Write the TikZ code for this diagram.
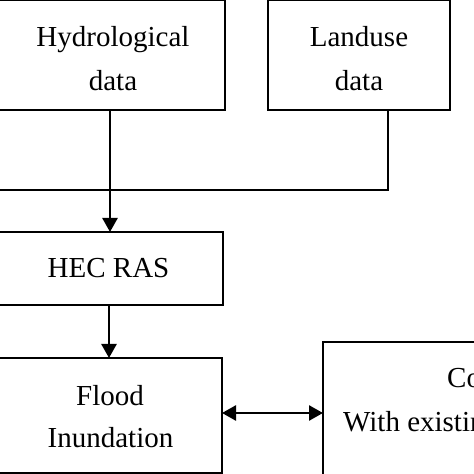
\documentclass[tikz,border=0pt]{standalone}
\usepackage{fontspec}
\setmainfont{Liberation Serif}
\usetikzlibrary{arrows.meta}
\begin{document}
\begin{tikzpicture}[x=1pt,y=1pt,
  box/.style={draw,line width=2.5pt,inner sep=0pt,outer sep=0pt},
  txt/.style={inner sep=0pt,anchor=base,font=\fontsize{29}{44}\selectfont},
  txtl/.style={txt,anchor=base west},
  conn/.style={line width=2.5pt},
  arr/.style={conn,-{Triangle[length=14pt,width=15pt]}},
  darr/.style={conn,{Triangle[length=14pt,width=15pt]}-{Triangle[length=14pt,width=15pt]}}]
\useasboundingbox (0,0) rectangle (474,474);
\clip (0,0) rectangle (474,474);
\fill[white] (0,0) rectangle (474,474);
% boxes
\node[box,minimum width=230pt,minimum height=110pt] (hydro) at (110,419) {};
\node[box,minimum width=182pt,minimum height=110pt] (land) at (359,419) {};
\node[box,minimum width=228pt,minimum height=73pt] (hec) at (109,205.5) {};
\node[box,minimum width=227pt,minimum height=115pt] (flood) at (108.5,58.5) {};
\node[box,minimum width=277pt,minimum height=258pt] (comp) at (461.5,3) {};
% texts
\node[txt] (t1) at (113,427) {Hydrological};
\node[txt] (t2) at (113,383) {data};
\node[txt] (t3) at (359,427) {Landuse};
\node[txt] (t4) at (359,383) {data};
\node[txt] (t5) at (108.5,196) {HEC RAS};
\node[txt] (t6) at (110,68) {Flood};
\node[txt] (t7) at (110.5,26) {Inundation};
\node[txtl] (t8) at (447,86) {Comparison};
\node[txtl] (t9) at (343,42) {With existing maps};
% connectors
\coordinate (lj) at (388,284);
\coordinate (le) at (-10,284);
\coordinate (da) at (0,61);
\draw[conn] (land.south -| lj) -- (lj) -- (le);
\draw[arr] (hydro.south) -- (hydro.south |- hec.north);
\draw[arr] (hec.south) -- (hec.south |- flood.north);
\draw[darr] (flood.east |- da) -- (comp.west |- da);
\end{tikzpicture}
\end{document}
